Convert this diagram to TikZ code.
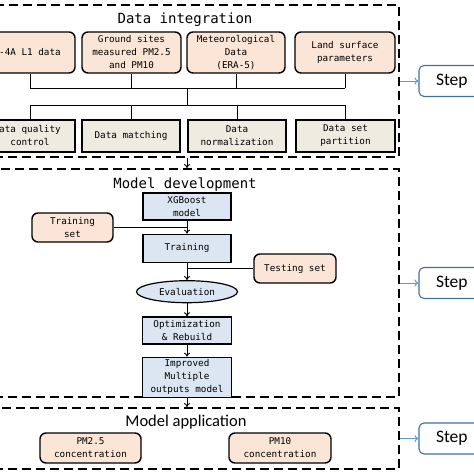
\documentclass[tikz,border=0pt]{standalone}
\usepackage{fontspec}
\newfontfamily\monofont{DejaVu Sans Mono}
\newfontfamily\califont{Carlito}
\usetikzlibrary{positioning, arrows.meta, shapes.geometric}

\definecolor{peach}{HTML}{FBE5D6}
\definecolor{stone}{HTML}{EEECE1}
\definecolor{paleblue}{HTML}{DCE6F2}
\definecolor{stepblue}{HTML}{41719C}
\definecolor{arrowblue}{HTML}{5B9BD5}

\begin{document}
\begin{tikzpicture}[x=1pt, y=-1pt,
    font=\monofont\fontsize{9.3}{13}\selectfont,
    sourcebox/.style={rectangle, rounded corners=6pt, draw=black, line width=1.4pt, fill=peach, align=center, inner sep=1pt},
    prepbox/.style={rectangle, draw=black, line width=1.6pt, fill=stone, align=center, minimum height=32pt, inner sep=1pt},
    modelbox/.style={rectangle, draw=black, line width=1.4pt, fill=paleblue, align=center, minimum width=88pt, inner sep=0pt},
    evalnode/.style={ellipse, draw=black, line width=1.2pt, fill=paleblue, minimum width=101pt, minimum height=22pt, inner sep=0pt},
    stagebox/.style={rectangle, draw=black, line width=1.8pt, dash pattern=on 9pt off 5pt},
    stagetitle/.style={font=\monofont\fontsize{14}{16}\selectfont},
    stepnode/.style={rectangle, rounded corners=5pt, draw=stepblue, line width=1.1pt, fill=white, minimum width=84pt, minimum height=31pt, text width=50pt, align=left, font=\califont\fontsize{17.5}{20}\selectfont},
    link/.style={line width=0.9pt},
    flow/.style={line width=0.9pt, -{To[length=4pt, width=6pt]}},
    steplink/.style={draw=arrowblue, line width=1pt, -{To[length=4pt, width=7pt]}}
]
\useasboundingbox (0,0) rectangle (474,474);
\clip (0,0) rectangle (474,474);

% stage frames
\node[stagebox, minimum width=419pt, minimum height=152pt] (f1) at (189.5,81) {};
\node[stagebox, minimum width=419pt, minimum height=228pt] (f2) at (189.5,283) {};
\node[stagebox, minimum width=419pt, minimum height=61pt] (f3) at (189.5,438.5) {};

\node[stagetitle] (t1) at (185,20) {Data integration};
\node[stagetitle] (t2) at (185,185) {Model development};
\node[font=\califont\fontsize{16.5}{19}\selectfont] (t3) at (186,422) {Model application};

% data integration
\node[sourcebox, minimum width=90pt, minimum height=41pt] (src1) at (30,52.5) {-4A L1 data};
\node[sourcebox, minimum width=99pt, minimum height=41pt] (src2) at (131.5,52.5) {Ground sites\\measured PM2.5\\and PM10};
\node[sourcebox, minimum width=98pt, minimum height=41pt] (src3) at (236,52.5) {Meteorological\\Data\\(ERA-5)};
\node[sourcebox, minimum width=100pt, minimum height=41pt] (src4) at (345,52.5) {Land surface\\parameters};

\node[prepbox, minimum width=90pt] (prep1) at (30,136) {ata quality\\control};
\node[prepbox, minimum width=98pt] (prep2) at (131,136) {Data matching};
\node[prepbox, minimum width=98pt] (prep3) at (237,136) {Data\\normalization};
\node[prepbox, minimum width=99pt] (prep4) at (345.5,136) {Data set\\partition};

\coordinate (busA) at (187,88);
\coordinate (busB) at (187,105);
\foreach \n in {src1,src2,src3,src4}
    \draw[link] (\n.south) -- (\n.south |- busA);
\draw[link] (src1.south |- busA) -- (src4.south |- busA);
\draw[link] (busA) -- (busB);
\draw[link] (prep1.north |- busB) -- (prep4.north |- busB);
\foreach \n in {prep1,prep2,prep3,prep4}
    \draw[link] (\n.north |- busB) -- (\n.north);

% model development
\node[modelbox, minimum height=27pt] (xgb) at (187,206.5) {XGBoost\\model};
\node[modelbox, minimum height=28pt] (train)[below = 13pt of xgb] {Training};
\node[evalnode] (eval)[below = 17pt of train] {Evaluation};
\node[modelbox, minimum width=89pt, minimum height=27pt] (optim)[below = 13pt of eval] {Optimization\\\& Rebuild};
\node[modelbox, minimum width=89pt, minimum height=40pt] (improved)[below = 12pt of optim] {Improved\\Multiple\\outputs model};

\node[sourcebox, minimum width=81pt, minimum height=29pt] (trainset) at (72.5,227.5) {Training\\set};
\node[sourcebox, minimum width=82pt, minimum height=29pt] (testset) at (295,268.5) {Testing set};

\draw[flow] (xgb) -- (train);
\draw[link] (trainset.east) -- (trainset.east -| train.north);
\draw[flow] (train) -- (eval);
\draw[link] (testset.west) -- (testset.west -| eval.north);
\draw[flow] (eval) -- (optim);
\draw[flow] (optim) -- (improved);

% model application
\node[sourcebox, minimum width=101pt, minimum height=30pt] (pm25) at (90.5,448) {PM2.5\\concentration};
\node[sourcebox, minimum width=102pt, minimum height=30pt] (pm10) at (280,448) {PM10\\concentration};

% between stages
\draw[flow] (f1.south -| xgb) -- (f2.north -| xgb);
\draw[flow] (f2.south -| improved) -- (f3.north -| improved);

% steps
\node[stepnode] (step1) at (461,81) {Step};
\node[stepnode] (step2) at (461,283) {Step};
\node[stepnode] (step3) at (461,438.5) {Step};
\draw[steplink] (f1.east) -- (step1.west);
\draw[steplink] (f2.east) -- (step2.west);
\draw[steplink] (f3.east) -- (step3.west);
\end{tikzpicture}
\end{document}
